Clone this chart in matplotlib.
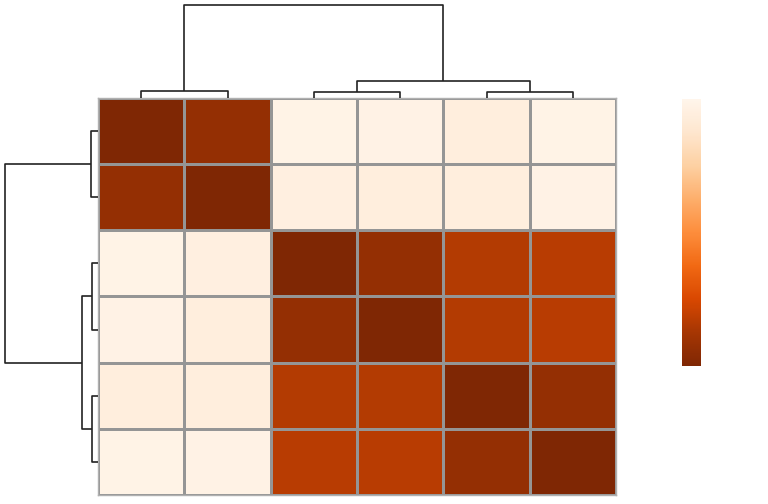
import numpy as np
import matplotlib
matplotlib.use("Agg")
import matplotlib.pyplot as plt

# dissimilarity matrix, already in dendrogram leaf order
dist = np.array([
    [0.00, 0.07, 0.98, 0.97, 0.94, 0.98],
    [0.07, 0.00, 0.95, 0.94, 0.94, 0.97],
    [0.98, 0.95, 0.00, 0.07, 0.16, 0.17],
    [0.97, 0.94, 0.07, 0.00, 0.16, 0.17],
    [0.94, 0.94, 0.16, 0.16, 0.00, 0.07],
    [0.98, 0.97, 0.17, 0.17, 0.07, 0.00],
])

# linkage: (left child, right child, height); leaves 0..5, clusters 6..
row_links = [(2, 3, 0.067), (4, 5, 0.067), (0, 1, 0.078), (6, 7, 0.174), (8, 9, 1.0)]
col_links = [(2, 3, 0.065), (4, 5, 0.065), (0, 1, 0.078), (6, 7, 0.18), (8, 9, 1.0)]


def draw_dendro(ax, links, rotate=False):
    n = len(links) + 1
    pos = {i: i + 0.5 for i in range(n)}
    hgt = {i: 0.0 for i in range(n)}
    for k, (a, b, h) in enumerate(links):
        xs = [pos[a], pos[a], pos[b], pos[b]]
        ys = [hgt[a], h, h, hgt[b]]
        if rotate:
            ax.plot(ys, xs, color="#222222", lw=1.2, solid_capstyle="butt")
        else:
            ax.plot(xs, ys, color="#222222", lw=1.2, solid_capstyle="butt")
        pos[n + k] = (pos[a] + pos[b]) / 2
        hgt[n + k] = h
    top = max(l[2] for l in links) * 1.05
    if rotate:
        ax.set_xlim(top, 0)
        ax.set_ylim(n, 0)
    else:
        ax.set_ylim(0, top)
        ax.set_xlim(0, n)
    ax.axis("off")


fig = plt.figure(figsize=(7.68, 5.04), dpi=100)

ax_heat = fig.add_axes([0.1276, 0.0179, 0.6745, 0.7877])
ax_col = fig.add_axes([0.1276, 0.8056, 0.6745, 0.194])
ax_row = fig.add_axes([0.0, 0.0179, 0.1276, 0.7877])
ax_cb = fig.add_axes([0.888, 0.2738, 0.0247, 0.53])

mesh = ax_heat.pcolormesh(dist, cmap="Oranges_r", vmin=0, vmax=1,
                          edgecolors="#959595", linewidth=0.75)
ax_heat.set_xlim(0, 6)
ax_heat.set_ylim(6, 0)
ax_heat.set_xticks([])
ax_heat.set_yticks([])
for s in ax_heat.spines.values():
    s.set_color("#b0b0b0")
    s.set_linewidth(1.0)

draw_dendro(ax_col, col_links)
draw_dendro(ax_row, row_links, rotate=True)

cb = fig.colorbar(mesh, cax=ax_cb)
cb.set_ticks([])
cb.outline.set_visible(False)

fig.savefig("out.png", dpi=100)
